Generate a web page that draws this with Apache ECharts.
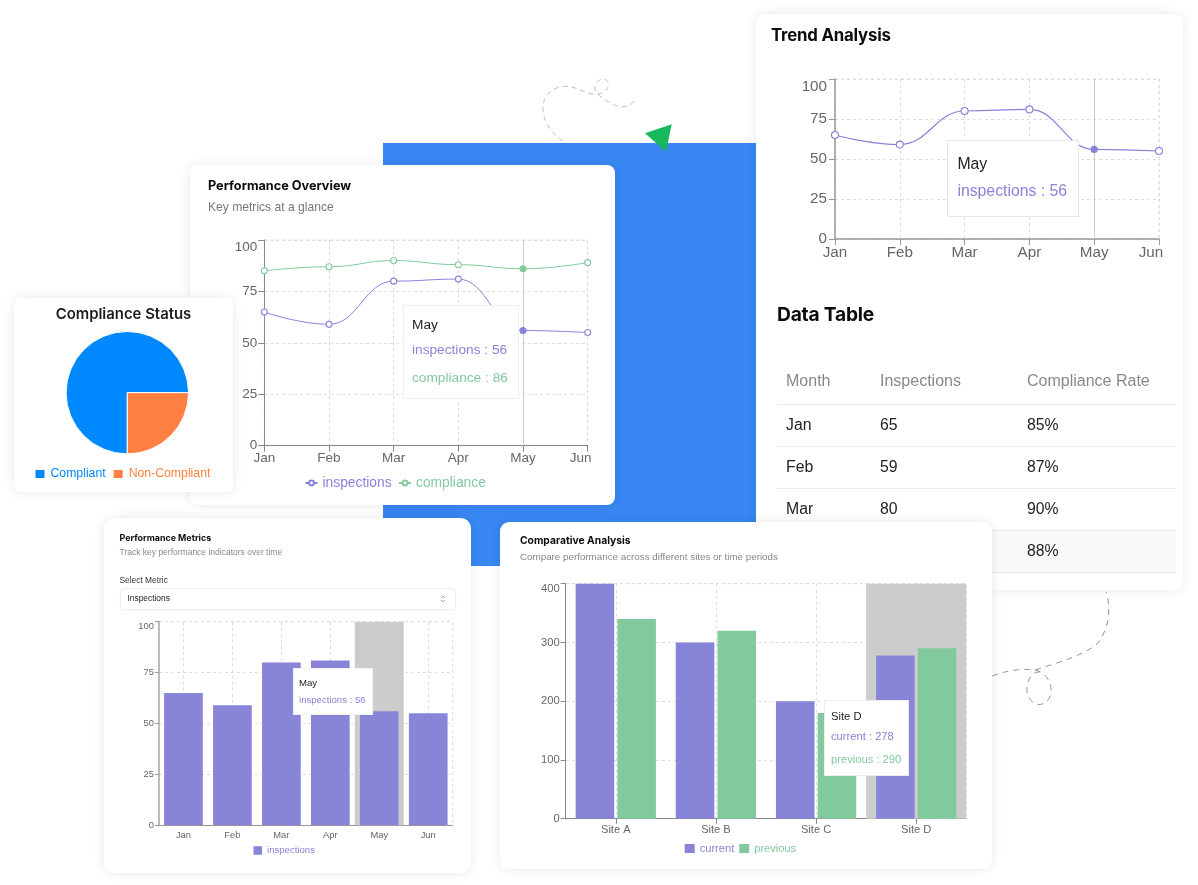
<!DOCTYPE html>
<html>
<head>
<meta charset="utf-8">
<title>Dashboard</title>
<script src="https://cdn.jsdelivr.net/npm/echarts@6/dist/echarts.min.js"></script>
<style>
html,body{margin:0;padding:0;width:1198px;height:885px;background:#fff;overflow:hidden;font-family:"Liberation Sans",Arial,sans-serif}
#page{position:absolute;left:0;top:0;width:1198px;height:885px;filter:blur(.3px)}
.abs{position:absolute}
.card{position:absolute;background:#fff;box-shadow:0 0 12px rgba(0,0,0,.09)}
.chart{position:absolute;left:0;top:0;width:100%;height:100%}
.t{position:absolute;white-space:nowrap;line-height:1;transform:translateY(-50%)}
.h{font-family:Inter,"Liberation Sans",sans-serif;font-weight:700;color:#0c0c0c}
.cell{position:absolute;white-space:nowrap;line-height:1;transform:translateY(-50%);font-size:15.8px;color:#222}
</style>
</head>
<body>
<div id="page">
<div class="abs" style="left:383px;top:143px;width:378px;height:423px;background:#3887f3"></div>
<svg class="abs" style="left:0;top:0" width="1198" height="885" fill="none">
  <path d="M563 141 C550 132 542 120 543 106 C545 90 560 84 572 87 C582 90 592 96 598 94 C606 93 610 87 608 82 C604 76 596 80 595 87 C594 94 604 99 612 104 C622 109 632 107 636 98" stroke="#b4b4b4" stroke-width=".9" stroke-dasharray="5 4"/>
  <path d="M992 676 C1005 671 1020 668 1035 670 C1060 662 1085 655 1098 643 C1108 630 1112 610 1106 592" stroke="#8a8a8a" stroke-width=".9" stroke-dasharray="6 5"/>
  <path d="M1035 670 C1045 672 1052 682 1051 692 C1050 702 1042 706 1036 704 C1028 701 1025 690 1028 682 C1030 675 1035 671 1042 672" stroke="#8a8a8a" stroke-width=".9" stroke-dasharray="6 5"/>
  <polygon points="645,133.3 671.7,124.3 666,151.7" fill="#18b95c"/>
</svg>

<div class="card" style="left:756px;top:14px;width:427px;height:576px;border-radius:9px;z-index:1;overflow:hidden" id="trendCard">
  <div class="chart" id="trend"></div>
  <div class="t h" style="left:15px;top:21px;font-size:16.8px;letter-spacing:-.2px">Trend Analysis</div>
  <div class="t h" style="left:21px;top:301px;font-size:19.2px;letter-spacing:-.2px">Data Table</div>
  <div id="table"></div>
</div>

<div class="card" style="left:190px;top:165px;width:425px;height:340px;border-radius:8px;z-index:2">
  <div class="chart" id="overview"></div>
  <div class="t h" style="left:18px;top:21px;font-size:12.7px">Performance Overview</div>
  <div class="t" style="left:18px;top:41.5px;font-size:12.1px;color:#777">Key metrics at a glance</div>
</div>

<div class="card" style="left:14px;top:298px;width:219px;height:194px;border-radius:6px;z-index:3">
  <div class="chart" id="pie"></div>
  <div class="t h" style="left:0;width:219px;text-align:center;top:16.3px;font-size:14.9px;font-weight:600;color:#1c1c1c">Compliance Status</div>
</div>

<div class="card" style="left:104px;top:518px;width:367px;height:355px;border-radius:10px;z-index:4">
  <div class="chart" id="metrics"></div>
  <div class="t h" style="left:15.5px;top:19.5px;font-size:8.9px">Performance Metrics</div>
  <div class="t" style="left:15.5px;top:33.7px;font-size:8.5px;color:#888">Track key performance indicators over time</div>
  <div class="t" style="left:15.5px;top:62px;font-size:8.4px;color:#333">Select Metric</div>
  <div class="abs" style="left:15.5px;top:69.7px;width:334px;height:20.5px;border:1px solid #eee;border-radius:4px;box-shadow:0 1px 2px rgba(0,0,0,.03)"></div>
  <div class="t" style="left:23.5px;top:80px;font-size:8.4px;color:#222">Inspections</div>
  <svg class="abs" style="left:335px;top:75.5px" width="8" height="10" fill="none" stroke="#888" stroke-width=".8"><path d="M2 4 L4 2 L6 4 M2 6 L4 8 L6 6"/></svg>
</div>

<div class="card" style="left:500px;top:522px;width:492px;height:347px;border-radius:9px;z-index:5">
  <div class="chart" id="compare"></div>
  <div class="t h" style="left:20px;top:18px;font-size:10.3px">Comparative Analysis</div>
  <div class="t" style="left:20px;top:34.5px;font-size:9.8px;color:#888">Compare performance across different sites or time periods</div>
</div>
</div>

<script>
var months = ['Jan','Feb','Mar','Apr','May','Jun'];
var inspections = [65,59,80,81,56,55];
var compliance = [85,87,90,88,86,89];
var sites = ['Site A','Site B','Site C','Site D'];
var currentValues = [400,300,200,278];
var previousValues = [340,320,180,290];
var pieNames = ['Compliant','Non-Compliant'];
var pieValues = [75,25];
var tableHeader = ['Month','Inspections','Compliance Rate'];
var tableMonths = ['Jan','Feb','Mar','Apr'];
var tableInspections = [65,59,80,81];
var tableRates = ['85%','87%','90%','88%'];

var PURPLE='#8884d8', GREEN='#82ca9d', FONT='"Liberation Sans",Arial,sans-serif';

function tipFormatter(o){
  return function(params){
    var html='<div style="padding-top:'+o.padTop+'px;font-family:'+FONT.replace(/"/g,"'")+';font-size:'+o.font+'px;white-space:nowrap">';
    html+='<div style="line-height:'+o.titleLh+'px;color:#222">'+params[0].axisValue+'</div>';
    params.forEach(function(p){
      html+='<div style="line-height:'+o.rowLh+'px;color:'+p.color+'">'+p.seriesName+' : '+p.value+'</div>';
    });
    return html+'</div>';
  };
}
function tooltip(o){
  return {
    trigger:'axis', triggerOn:'none', alwaysShowContent:true, transitionDuration:0, showDelay:0, hideDelay:0,
    position:[o.x,o.y], padding:[0,0,0,o.padLeft],
    backgroundColor:'#fff', borderColor:o.border, borderWidth:1,
    extraCssText:'box-shadow:none;border-radius:0;box-sizing:border-box;width:'+o.w+'px;height:'+o.h+'px;',
    formatter:tipFormatter(o),
    axisPointer:o.bar
      ? {type:'shadow', z:1, shadowStyle:{color:'#ccc',opacity:1}}
      : {type:'line', z:1, lineStyle:{color:'#ccc',type:'solid',width:1}}
  };
}
function baseOption(o){
  var rich={end:{padding:[0,o.endPad||0,0,0],fontSize:o.xFont,color:'#666',fontFamily:FONT}};
  return {
    animation:false,
    textStyle:{fontFamily:FONT},
    grid:{show:true,left:o.left,top:o.top,width:o.width,height:o.height,borderColor:'#ddd',borderWidth:1,borderType:[3,3],backgroundColor:'transparent',containLabel:false},
    xAxis:{
      type:'category',data:o.cats,boundaryGap:!!o.bar,
      axisLine:{lineStyle:{color:o.axisColor,width:o.xAxisW}},
      axisTick:{show:o.xTick,alignWithLabel:true,length:o.tickLen,lineStyle:{color:o.axisColor}},
      axisLabel:{interval:0,margin:o.xMargin,fontSize:o.xFont,color:'#666',rich:rich,
        formatter:function(v,i){return (o.endPad&&i===o.cats.length-1)?'{end|'+v+'}':v;}},
      splitLine:{show:true,alignWithLabel:true,lineStyle:{type:[3,3],color:'#ddd',width:1}}
    },
    yAxis:{
      type:'value',min:0,max:o.max,interval:o.interval,
      axisLine:{show:true,lineStyle:{color:o.yAxisColor||o.axisColor,width:o.yAxisW}},
      axisTick:{show:true,length:o.tickLen,lineStyle:{color:o.axisColor}},
      axisLabel:{margin:o.yMargin,fontSize:o.yFont,color:'#666',verticalAlignMaxLabel:'top'},
      splitLine:{show:true,lineStyle:{type:[3,3],color:'#ddd',width:1}}
    }
  };
}
function lineSeries(name,values,color,symbolSize,activeSize,width){
  return {
    name:name,type:'line',smooth:0.45,smoothMonotone:'x',
    symbol:'circle',symbolSize:symbolSize,showAllSymbol:true,
    lineStyle:{color:color,width:width},
    itemStyle:{color:'#fff',borderColor:color,borderWidth:1.1},
    emphasis:{disabled:true},
    data:values.map(function(v,i){
      return i===4?{value:v,symbolSize:activeSize,itemStyle:{color:color,borderColor:color}}:v;
    })
  };
}
function barSeries(name,values,color,width,gap){
  return {name:name,type:'bar',barWidth:width,barGap:gap,z:2,itemStyle:{color:color},emphasis:{disabled:true},data:values};
}
function legend(names,colors,o){
  return {
    left:o.left,top:o.top,itemGap:o.gap,itemWidth:o.w,itemHeight:o.h,padding:0,selectedMode:false,
    icon:o.icon,
    textStyle:{fontSize:o.font,fontFamily:FONT},
    data:names.map(function(n,i){return {name:n,textStyle:{color:colors[i],fontSize:o.font}};})
  };
}
function mount(id,opt,tipSeries,tipIndex){
  var c=echarts.init(document.getElementById(id));
  c.setOption(opt);
  if(tipIndex!==undefined) c.dispatchAction({type:'showTip',seriesIndex:tipSeries,dataIndex:tipIndex});
  return c;
}

/* Trend */
var trendOpt=baseOption({cats:months,left:79,top:65,width:324,height:160,max:100,interval:25,
  axisColor:'#999',xAxisW:1.5,yAxisW:1.5,xTick:true,tickLen:6,xMargin:6,yMargin:8,xFont:15.2,yFont:15.2,endPad:16});
trendOpt.series=[lineSeries('inspections',inspections,PURPLE,7,5.5,1.2)];
trendOpt.tooltip=tooltip({x:191.3,y:126,w:131.7,h:76.7,padLeft:9.4,padTop:9.1,titleLh:27.2,rowLh:28,font:15.8,border:'#e8e8e8'});
mount('trend',trendOpt,0,4);

/* Overview */
var ovOpt=baseOption({cats:months,left:74.3,top:75,width:323.4,height:205.7,max:100,interval:25,
  axisColor:'#888',xAxisW:1,yAxisW:1,xTick:true,tickLen:6,xMargin:6,yMargin:7,xFont:13.5,yFont:13.5,endPad:14});
ovOpt.series=[lineSeries('inspections',inspections,PURPLE,6,5,1),lineSeries('compliance',compliance,GREEN,6,5,1)];
ovOpt.legend=legend(['inspections','compliance'],[PURPLE,GREEN],{left:114.5,top:311,gap:6.5,w:12,h:6,font:13.8});
ovOpt.tooltip=tooltip({x:212.7,y:140.3,w:116,h:94,padLeft:8,padTop:8,titleLh:22,rowLh:28,font:13.7,border:'#eee'});
mount('overview',ovOpt,0,4);

/* Pie */
mount('pie',{
  animation:false,
  textStyle:{fontFamily:FONT},
  color:['#0088FE','#FF8042'],
  legend:legend(pieNames,['#0088FE','#FF8042'],{left:19.5,top:170,gap:6,w:11,h:10,font:12.25,icon:'rect'}),
  series:[{type:'pie',center:[113.3,94.7],radius:[0,61.2],startAngle:0,clockwise:false,
    label:{show:false},labelLine:{show:false},emphasis:{disabled:true},
    itemStyle:{borderColor:'#fff',borderWidth:1},
    data:pieNames.map(function(n,i){return {name:n,value:pieValues[i]};})}]
});

/* Metrics */
var mOpt=baseOption({cats:months,bar:true,left:55,top:103.7,width:293.7,height:203.6,max:100,interval:25,
  axisColor:'#999',yAxisColor:'#bbb',xAxisW:1,yAxisW:2,xTick:false,tickLen:4,xMargin:6,yMargin:5,xFont:9.4,yFont:9.4});
mOpt.series=[barSeries('inspections',inspections,PURPLE,38.7,'0%')];
mOpt.legend=legend(['inspections'],[PURPLE],{left:149.5,top:327.5,gap:5,w:8.5,h:8.5,font:9.6,icon:'rect'});
mOpt.tooltip=tooltip({x:189.3,y:150.3,w:80,h:46.7,padLeft:5,padTop:7.3,titleLh:13.4,rowLh:20,font:9.6,border:'#f2f2f2',bar:true});
mount('metrics',mOpt,0,4);

/* Compare */
var cOpt=baseOption({cats:sites,bar:true,left:65.7,top:61.7,width:400.6,height:235,max:400,interval:100,
  axisColor:'#888',xAxisW:1,yAxisW:1,xTick:true,tickLen:5,xMargin:6,yMargin:6,xFont:11.1,yFont:11.2});
cOpt.series=[barSeries('current',currentValues,PURPLE,38.6,'8%'),barSeries('previous',previousValues,GREEN,38.6,'8%')];
cOpt.legend=legend(['current','previous'],[PURPLE,GREEN],{left:184.7,top:321,gap:5,w:10,h:9,font:11.1,icon:'rect'});
cOpt.tooltip=tooltip({x:324.3,y:178.3,w:84.7,h:76,padLeft:6,padTop:7.3,titleLh:16.8,rowLh:22.6,font:11.2,border:'#eee',bar:true});
mount('compare',cOpt,0,3);

/* Table */
(function(){
  var root=document.getElementById('table');
  var colX=[30,124,271], rowY=[411,453,495,537], lineY=[390,432,474,516,558];
  function add(style,text){var d=document.createElement('div');d.style.cssText=style;if(text!==undefined)d.textContent=text;root.appendChild(d);}
  add('position:absolute;left:20.7px;top:516px;width:399px;height:42px;background:#fafafa');
  lineY.forEach(function(y){add('position:absolute;left:20.7px;top:'+y+'px;width:399px;height:1px;background:#ececec');});
  tableHeader.forEach(function(h,i){add('position:absolute;white-space:nowrap;line-height:1;transform:translateY(-50%);font-size:16px;color:#888;left:'+colX[i]+'px;top:367px',h);});
  tableMonths.forEach(function(m,r){
    [m,tableInspections[r],tableRates[r]].forEach(function(v,i){
      var d=document.createElement('div');d.className='cell';d.style.left=colX[i]+'px';d.style.top=rowY[r]+'px';d.textContent=v;root.appendChild(d);
    });
  });
})();
</script>
</body>
</html>
